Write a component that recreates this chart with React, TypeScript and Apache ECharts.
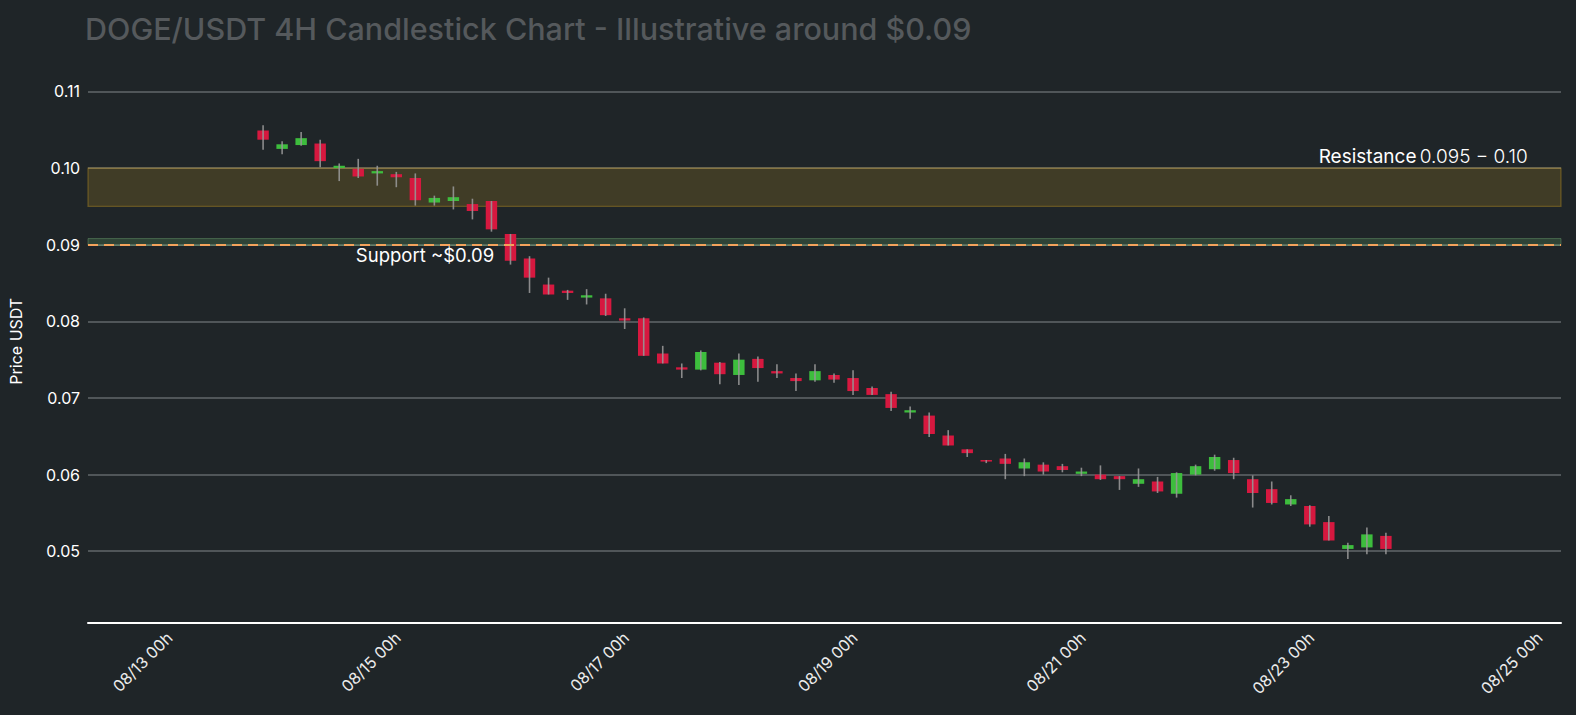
import React, { useEffect, useRef } from "react";
import * as echarts from "echarts";

// Hours after 08/13 00h for the first 4H candle (bars drawn at their mid-point)
const firstCandleHour = 18;
const candleStepHours = 4;

const opens = [
  0.1049, 0.1025, 0.1030, 0.1032, 0.1000, 0.0999, 0.0993, 0.0992, 0.0987, 0.0955,
  0.0957, 0.0953, 0.0957, 0.0914, 0.0882, 0.0848, 0.0840, 0.0831, 0.0830, 0.0804,
  0.0804, 0.0758, 0.0740, 0.0737, 0.0746, 0.0730, 0.0751, 0.0735, 0.0726, 0.0723,
  0.0730, 0.0726, 0.0713, 0.0705, 0.0681, 0.0677, 0.0651, 0.0633, 0.0619, 0.0621,
  0.0608, 0.0613, 0.0611, 0.0601, 0.0600, 0.0598, 0.0588, 0.0591, 0.0575, 0.0600,
  0.0607, 0.0619, 0.0594, 0.0581, 0.0561, 0.0559, 0.0538, 0.0503, 0.0505, 0.0520,
];
const closes = [
  0.1037, 0.1031, 0.1039, 0.1009, 0.1003, 0.0989, 0.0996, 0.0988, 0.0958, 0.0961,
  0.0962, 0.0944, 0.0920, 0.0879, 0.0857, 0.0835, 0.0837, 0.0834, 0.0808, 0.0801,
  0.0755, 0.0745, 0.0737, 0.0760, 0.0731, 0.0750, 0.0739, 0.0732, 0.0722, 0.0735,
  0.0724, 0.0709, 0.0704, 0.0687, 0.0684, 0.0653, 0.0638, 0.0628, 0.0617, 0.0614,
  0.0616, 0.0604, 0.0606, 0.0604, 0.0594, 0.0594, 0.0594, 0.0578, 0.0602, 0.0611,
  0.0623, 0.0602, 0.0576, 0.0563, 0.0568, 0.0535, 0.0514, 0.0508, 0.0522, 0.0503,
];
const lows = [
  0.1024, 0.1018, 0.1029, 0.1001, 0.0983, 0.0987, 0.0977, 0.0975, 0.0951, 0.0951,
  0.0946, 0.0933, 0.0917, 0.0874, 0.0837, 0.0835, 0.0828, 0.0822, 0.0807, 0.0790,
  0.0755, 0.0745, 0.0726, 0.0736, 0.0718, 0.0717, 0.0721, 0.0726, 0.0709, 0.0721,
  0.0720, 0.0704, 0.0704, 0.0683, 0.0673, 0.0649, 0.0638, 0.0623, 0.0615, 0.0594,
  0.0598, 0.0600, 0.0603, 0.0598, 0.0593, 0.0580, 0.0584, 0.0576, 0.0570, 0.0599,
  0.0605, 0.0594, 0.0557, 0.0561, 0.0559, 0.0532, 0.0514, 0.0490, 0.0496, 0.0496,
];
const highs = [
  0.1056, 0.1035, 0.1047, 0.1037, 0.1006, 0.1012, 0.1003, 0.0995, 0.0993, 0.0964,
  0.0976, 0.0960, 0.0957, 0.0914, 0.0885, 0.0857, 0.0841, 0.0842, 0.0836, 0.0817,
  0.0805, 0.0768, 0.0745, 0.0762, 0.0747, 0.0758, 0.0754, 0.0744, 0.0732, 0.0744,
  0.0732, 0.0736, 0.0715, 0.0708, 0.0689, 0.0681, 0.0658, 0.0633, 0.0619, 0.0627,
  0.0621, 0.0616, 0.0614, 0.0609, 0.0612, 0.0598, 0.0608, 0.0597, 0.0603, 0.0613,
  0.0626, 0.0622, 0.0599, 0.0591, 0.0573, 0.0560, 0.0546, 0.0511, 0.0531, 0.0524,
];

const xTickHours = [0, 48, 96, 144, 192, 240, 288];
const yTickValues = [0.05, 0.06, 0.07, 0.08, 0.09, 0.1, 0.11];

const resistanceBand = [0.095, 0.1];
const supportBand = [0.0899, 0.0908];
const supportLevel = 0.0899;

const titleText = "DOGE/USDT 4H Candlestick Chart - Illustrative around $0.09";

const FONT = "Inter, 'Noto Sans', sans-serif";
const BG = "#1f2528";
const UP = "#3dbd3d";
const DOWN = "#d6183f";

function hourLabel(h: number): string {
  const day = 13 + Math.floor(h / 24);
  const hour = Math.round(h % 24);
  return `08/${String(day).padStart(2, "0")} ${String(hour).padStart(2, "0")}h`;
}

export default function App() {
  const ref = useRef<HTMLDivElement>(null);

  useEffect(() => {
    if (!ref.current) return;
    const chart = echarts.init(ref.current, null, { renderer: "svg" });

    const candleData = opens.map((o, i) => [
      firstCandleHour + i * candleStepHours,
      o,
      closes[i],
      lows[i],
      highs[i],
    ]);

    const option: any = {
      animation: false,
      backgroundColor: BG,
      textStyle: { fontFamily: FONT },
      title: {
        text: titleText,
        left: 80,
        top: 8,
        textStyle: {
          color: "#55595c",
          fontSize: 30.5,
          fontWeight: 500,
          fontFamily: FONT,
        },
      },
      grid: { left: 84, right: 15, top: 60, bottom: 92.5, containLabel: false },
      xAxis: {
        type: "value",
        min: -18.8,
        max: 290.8,
        axisLine: { show: true, lineStyle: { color: "#ffffff", width: 2 } },
        axisTick: { show: false, customValues: xTickHours },
        splitLine: { show: false },
        axisLabel: {
          customValues: xTickHours,
          rotate: 45,
          margin: 5,
          color: "#ececec",
          fontSize: 16,
          fontFamily: FONT,
          formatter: (v: number) => `{t|${hourLabel(v)}}`,
          rich: {
            t: {
              color: "#ececec",
              fontSize: 16,
              fontFamily: FONT,
              padding: [0, 11, 0, 0],
            },
          },
        },
      },
      yAxis: {
        type: "value",
        min: 0.0407,
        max: 0.1141,
        name: "Price USDT",
        nameLocation: "middle",
        nameRotate: 90,
        nameGap: 64,
        nameTextStyle: { color: "#ffffff", fontSize: 16, fontFamily: FONT },
        axisLine: { show: false },
        axisTick: { show: false, customValues: yTickValues },
        axisLabel: {
          customValues: yTickValues,
          color: "#ffffff",
          fontSize: 16,
          margin: 8,
          fontFamily: FONT,
          formatter: (v: number) => v.toFixed(2),
        },
        splitLine: { show: true, lineStyle: { color: "#62676a", width: 1.5 } },
      },
      series: [
        {
          type: "custom",
          name: "candles",
          z: 2,
          data: candleData,
          encode: { x: 0, y: [1, 2, 3, 4] },
          renderItem: (params: any, api: any) => {
            const x = api.value(0);
            const o = api.value(1);
            const c = api.value(2);
            const l = api.value(3);
            const h = api.value(4);
            const pO = api.coord([x, o]);
            const pC = api.coord([x, c]);
            const pL = api.coord([x, l]);
            const pH = api.coord([x, h]);
            const w = api.size([candleStepHours, 0])[0] * 0.6;
            const top = Math.min(pO[1], pC[1]);
            const hgt = Math.max(Math.abs(pO[1] - pC[1]), 1.5);
            const color = c >= o ? UP : DOWN;
            return {
              type: "group",
              children: [
                {
                  type: "rect",
                  shape: { x: pO[0] - w / 2, y: top, width: w, height: hgt },
                  style: { fill: color },
                },
                {
                  type: "line",
                  shape: { x1: pL[0], y1: pL[1], x2: pH[0], y2: pH[1] },
                  style: { stroke: "rgba(150,150,150,0.9)", lineWidth: 1.6 },
                },
              ],
            };
          },
        },
        {
          type: "line",
          name: "levels",
          z: 5,
          data: [],
          silent: true,
          markArea: {
            silent: true,
            data: [
              [
                {
                  yAxis: resistanceBand[0],
                  itemStyle: {
                    color: "rgba(218,165,32,0.18)",
                    borderColor: "rgba(218,165,32,0.35)",
                    borderWidth: 1.2,
                  },
                },
                { yAxis: resistanceBand[1] },
              ],
              [
                {
                  yAxis: supportBand[0],
                  itemStyle: {
                    color: "rgba(110,190,110,0.2)",
                    borderColor: "rgba(140,210,140,0.3)",
                    borderWidth: 1,
                  },
                },
                { yAxis: supportBand[1] },
              ],
            ],
          },
          markLine: {
            silent: true,
            symbol: "none",
            label: { show: false },
            lineStyle: { color: "#f4a35c", type: [10, 6], width: 2.2 },
            data: [{ yAxis: supportLevel }],
          },
          markPoint: {
            silent: true,
            symbol: "rect",
            symbolSize: 1,
            itemStyle: { color: "rgba(0,0,0,0)" },
            data: [
              {
                coord: [37.5, supportLevel],
                label: {
                  show: true,
                  position: "inside",
                  align: "left",
                  verticalAlign: "top",
                  offset: [0, 0],
                  formatter: "Support ~$0.09",
                  color: "#ffffff",
                  fontSize: 18.5,
                  fontFamily: FONT,
                },
              },
              {
                coord: [283.8, resistanceBand[1]],
                label: {
                  show: true,
                  position: "inside",
                  align: "right",
                  verticalAlign: "bottom",
                  offset: [0, -2],
                  formatter: "{a|Resistance} {b|0.095 − 0.10}",
                  rich: {
                    a: { color: "#ffffff", fontSize: 19, fontFamily: FONT, fontWeight: 400 },
                    b: { color: "#ffffff", fontSize: 19, fontFamily: FONT, fontWeight: 300 },
                  },
                },
              },
            ],
          },
        },
      ],
    };

    chart.setOption(option);
    return () => chart.dispose();
  }, []);

  return (
    <div
      ref={ref}
      style={{ position: "fixed", left: 0, top: 0, width: 1576, height: 715 }}
    />
  );
}
